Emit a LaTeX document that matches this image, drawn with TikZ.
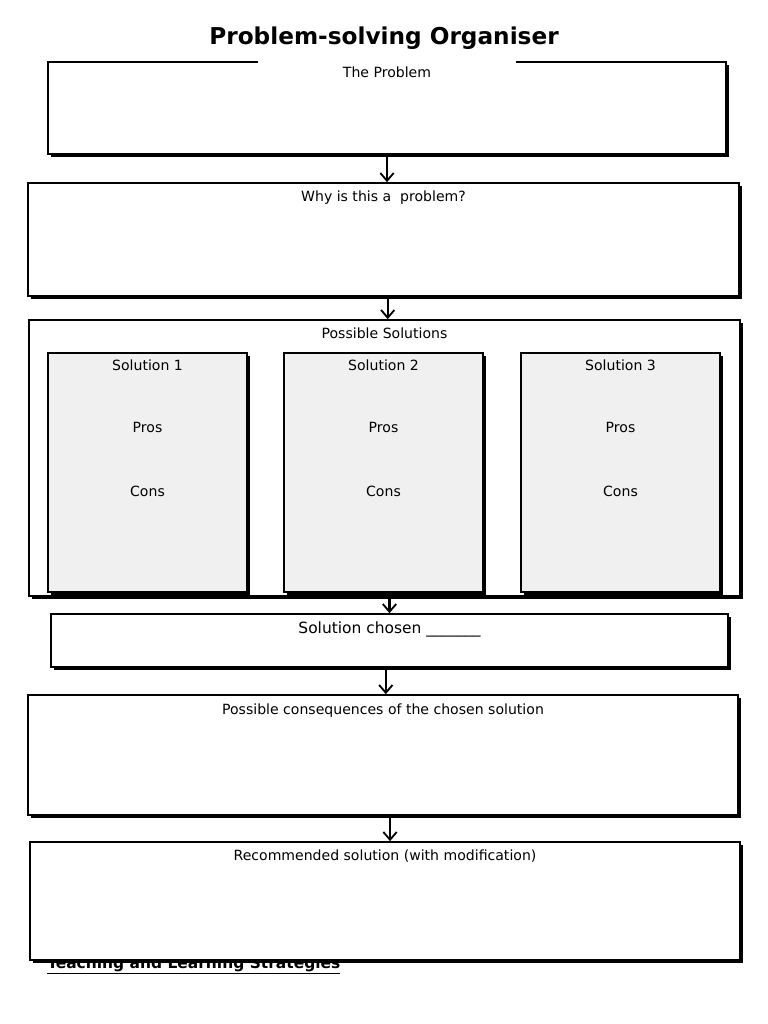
\documentclass[tikz,border=0pt]{standalone}
\usepackage{fontspec}
\setmainfont{DejaVu Sans}
\usetikzlibrary{arrows.meta,shadows,positioning}

\begin{document}
\begin{tikzpicture}[x=0.025cm,y=-0.025cm,font=\fontsize{10}{12}\selectfont]
    \tikzstyle{stage}=[rectangle,draw,line width=1.2pt,fill=white,inner sep=0,
        drop shadow={shadow xshift=2.2pt,shadow yshift=-2.2pt,opacity=1,fill=black}]
    \tikzstyle{option}=[stage,fill=black!6,minimum width=4.975cm,minimum height=5.975cm]
    \tikzstyle{heading}=[anchor=north,yshift=-4pt,inner sep=2pt]
    \tikzstyle{flow}=[line width=1.6pt,-{Straight Barb[length=5.5pt,width=9.5pt,line width=1.3pt]}]

    \useasboundingbox (0,0) rectangle (768,1024);

    \node(title)[font=\fontsize{16.5}{20}\selectfont\bfseries] at (384,38) {Problem-solving Organiser};

    \node(problem)[stage,minimum width=16.95cm,minimum height=2.3cm,
        label={[anchor=north,yshift=1.2pt,fill=white,minimum width=6.425cm,inner sep=2.5pt,text height=10pt]north:The Problem}] at (387,108) {};
    \node(why)[stage,minimum width=17.775cm,minimum height=2.825cm,
        label={[heading]north:Why is this a~ problem?}] at (383.5,239.5) {};

    \node(possible)[stage,minimum width=17.775cm,minimum height=6.9cm,
        label={[heading]north:Possible Solutions}] at (384.5,458) {};
    \node(sol1)[option,label={[heading,yshift=1pt]north:Solution 1}] at (147.5,472.5) {};
    \node(sol2)[option,label={[heading,yshift=1pt]north:Solution 2}] at (383.5,472.5) {};
    \node(sol3)[option,label={[heading,yshift=1pt]north:Solution 3}] at (620.5,472.5) {};
    \foreach \s in {1,2,3}{
        \node(pros\s)[below=1.64cm of sol\s.north]{Pros};
        \node(cons\s)[below=1.07cm of pros\s]{Cons};
    }

    \node(chosen)[stage,minimum width=16.925cm,minimum height=1.325cm,
        label={[heading,font=\fontsize{11}{13}\selectfont]north:Solution chosen \_\_\_\_\_\_\_}] at (389.5,640.5) {};
    \node(conseq)[stage,minimum width=17.75cm,minimum height=3cm,
        label={[heading,yshift=-0.8pt]north:Possible consequences of the chosen solution}] at (383,755) {};

    % footer sits under the last box
    \node(footer)[anchor=base west,inner sep=0,font=\fontsize{11}{13}\selectfont\bfseries] at (47,968)
        {\underline{Teaching and Learning Strategies}};
    \node(recommend)[stage,minimum width=17.75cm,minimum height=2.95cm,
        label={[heading]north:Recommended solution (with modification)}] at (385,901) {};

    \draw[flow](problem.south)--(problem.south |- why.north);
    \draw[flow]([xshift=3pt]why.south)--([xshift=3pt]why.south |- possible.north);
    \draw[flow](chosen.north |- sol2.south)--(chosen.north);
    \draw[flow]([xshift=2pt]conseq.north |- chosen.south)--([xshift=2pt]conseq.north);
    \draw[flow]([xshift=5pt]conseq.south)--([xshift=5pt]conseq.south |- recommend.north);
\end{tikzpicture}
\end{document}
